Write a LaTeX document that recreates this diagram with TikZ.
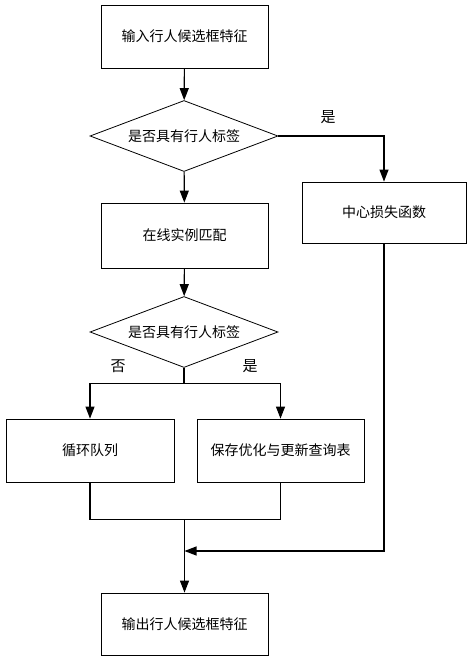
\documentclass[tikz,border=0pt]{standalone}
\usepackage{fontspec}
\newfontfamily\cjk{Noto Sans CJK SC}
\usetikzlibrary{arrows.meta,shapes.geometric,positioning}

\begin{document}
\begin{tikzpicture}[
  x=1pt, y=-1pt,
  box/.style={draw, line width=0.8pt, minimum width=167pt, minimum height=63pt,
    inner sep=0pt, font=\cjk\fontsize{14}{16}\selectfont},
  decide/.style={draw, diamond, aspect=2.6, line width=0.8pt, inner sep=0pt,
    minimum width=188pt, minimum height=71pt, font=\cjk\fontsize{14}{16}\selectfont},
  arrow/.style={-{Triangle[length=12pt, width=9pt]}, line width=1.1pt},
  link/.style={line width=1.1pt},
  label/.style={font=\cjk\fontsize{15}{17}\selectfont},
]
  \useasboundingbox (0,0) rectangle (474,659);
  % Boxes
  \node[box] (in) at (184.5,36.5) {输入行人候选框特征};
  \node[decide] (q1) at (184,136) {是否具有行人标签};
  \node[box, minimum width=164pt, minimum height=61pt] (cl) at (384,212.5) {中心损失函数};
  \node[box, minimum height=65pt] (match) at (184.5,235.5) {在线实例匹配};
  \node[decide] (q2) at (184,332) {是否具有行人标签};
  \node[box, minimum width=168pt] (loop) at (90,450.5) {循环队列};
  \node[box] (save) at (280.5,450.5) {保存优化与更新查询表};
  \node[box, minimum height=62pt] (out) at (184.5,624) {输出行人候选框特征};
  % Labels
  \node[label] (yes1) at (328,117) {是};
  \node[label] (no2) at (118,366) {否};
  \node[label] (yes2) at (250,366) {是};
  % Connectors
  \draw[arrow] (in) -- (q1);
  \draw[arrow] (q1.east) -| (cl.north);
  \draw[arrow] (q1) -- (match);
  \draw[arrow] (match) -- (q2);
  \draw[link] (q2.south) -- ++(0,16) coordinate (split);
  \draw[arrow] (split) -| (loop.north);
  \draw[arrow] (split) -| (save.north);
  \draw[link] (loop.south) -- ++(0,37) coordinate (jl) -| (save.south);
  \coordinate (join) at (jl -| out.north);
  \coordinate (merge) at (184.5,551);
  \draw[arrow] (cl.south) |- (merge);
  \draw[arrow] (join) -- (out.north);
\end{tikzpicture}
\end{document}
